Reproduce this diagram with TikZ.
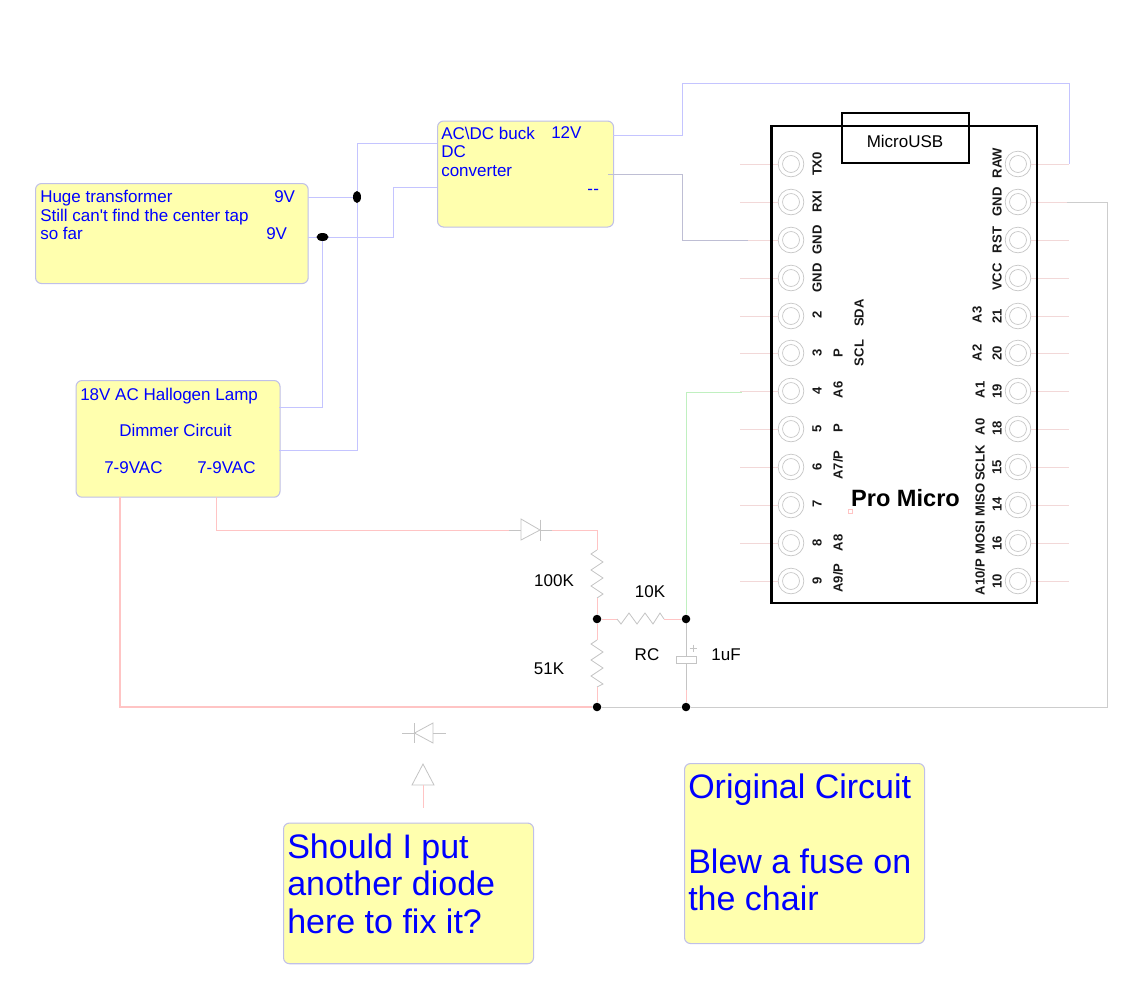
\documentclass[tikz,border=0pt]{standalone}
\usepackage{fontspec}
\setmainfont{Liberation Sans}
\usetikzlibrary{calc,shapes.geometric}
\pgfdeclarelayer{front}
\pgfsetlayers{main,front}
\definecolor{boxfill}{HTML}{FFFFAE}
\definecolor{boxline}{HTML}{C0C0E8}
\definecolor{wireblue}{HTML}{C4C4FF}
\definecolor{wiregrey}{HTML}{BEBED4}
\definecolor{wirered}{HTML}{FFC4C4}
\definecolor{stub}{HTML}{F2D8D8}
\definecolor{part}{HTML}{C4C4C4}
\definecolor{wiregreen}{HTML}{C0F0C0}
\tikzset{
  x=0.75pt,y=-0.75pt,
  box/.style={draw=boxline,fill=boxfill,rounded corners=4.5pt,line width=0.8pt,anchor=north west,inner sep=0pt},
  small/.style={text=blue,anchor=north west,inner sep=0pt,align=left,font=\fontsize{12.75}{13.9}\selectfont},
  big/.style={text=blue,anchor=north west,inner sep=0pt,align=left,font=\fontsize{25.5}{27.8}\selectfont},
  lab/.style={inner sep=0pt,font=\fontsize{12.75}{14}\selectfont},
  pinlab/.style={rotate=90,inner sep=0pt,font=\bfseries\fontsize{9.8}{10}\selectfont,text=black!90},
  ring/.style={circle,draw=part,line width=0.5pt,minimum size=19.3pt,inner sep=0pt},
  hole/.style={circle,draw=part,line width=0.5pt,minimum size=12.7pt,inner sep=0pt},
  dot/.style={circle,fill=black,inner sep=0pt,minimum size=6.4pt},
  ovaldot/.style={ellipse,fill=black,inner sep=0pt},
  wb/.style={draw=wireblue,line width=0.7pt},
  wg/.style={draw=wiregrey,line width=0.7pt},
  wr/.style={draw=wirered,line width=1pt},
  wrthin/.style={draw=wirered,line width=0.7pt},
  wgrey/.style={draw=part!85,line width=0.7pt},
  wgreen/.style={draw=wiregreen,line width=0.7pt},
  st/.style={draw=stub,line width=0.7pt},
  prt/.style={draw=part,line width=0.6pt},
}
\begin{document}
\begin{tikzpicture}
\useasboundingbox[fill=white] (0,0) rectangle (1148,1000);

% boxes
\node[box,minimum width=204.5pt,minimum height=75pt] (trans) at (35,183) {};
\node[box,minimum width=132pt,minimum height=79.5pt] (buck) at (437,120.5) {};
\node[box,minimum width=153pt,minimum height=87.5pt] (dim) at (75.5,380) {};
\node[box,minimum width=187.5pt,minimum height=105.5pt] (noteA) at (283,822.5) {};
\node[box,minimum width=180pt,minimum height=135pt] (noteB) at (684,763) {};

% box texts
\node[small] (t1) at (40,190) {Huge transformer\\Still can\textquotesingle t find the center tap\\so far};
\node[small] (t2) at (274,190) {9V};
\node[small] (t3) at (266,227) {9V};
\node[small] (t4) at (441,126.5) {AC\textbackslash DC buck\\DC\\converter};
\node[small] (t5) at (551,126.5) {12V};
\node[small] (t6) at (587,189) {-\kern0.3pt-};
\node[small] (t7) at (80,387.5) {18V AC Hallogen Lamp};
\node[small] (t8) at (119,424) {Dimmer Circuit};
\node[small] (t9) at (104,461) {7-9VAC};
\node[small] (t10) at (197,461) {7-9VAC};
\node[big] (t11) at (287,834) {Should I put\\another diode\\here to fix it?};
\node[big] (t12) at (688,774) {Original Circuit\\[27.8pt]Blew a fuse on\\the chair};

% pins
\foreach \i/\y in {1/164,2/202,3/240,4/278,5/316,6/353,7/391,8/429,9/467,10/505,11/543,12/581}{
  \node[ring] (L\i) at (791,\y) {};
  \node[hole] at (791,\y) {};
  \node[ring] (R\i) at (1018,\y) {};
  \node[hole] at (1018,\y) {};
  \coordinate (LS\i) at (740,\y);
  \coordinate (RS\i) at (1069,\y);
  \draw[st] (L\i.west) -- (LS\i);
  \draw[st] (R\i.east) -- (RS\i);
}

% wiring coordinates
\coordinate (b12) at (613,135);
\coordinate (bneg) at (608,174);
\coordinate (bin1) at (437,143);
\coordinate (bin2) at (437,187);
\coordinate (tr1) at (308,197);
\coordinate (tr2) at (308,237);
\coordinate (d1) at (279,407);
\coordinate (d2) at (279,450);
\coordinate (d3) at (120,497);
\coordinate (d4) at (216,497);
\coordinate (gndend) at (1067,202);

\begin{pgfonlayer}{front}
\node[ovaldot,minimum width=6pt,minimum height=9pt] (j1) at (357,197) {};
\node[ovaldot,minimum width=9pt,minimum height=6pt] (j2) at (322.5,237) {};
\node[dot] (j3) at (597,619) {};
\node[dot] (j4) at (686,619) {};
\node[dot] (j5) at (597,707) {};
\node[dot] (j6) at (686,707) {};
\end{pgfonlayer}

\draw[wb] (b12) -- (682,135) -- (682,83) -- (1069,83) -- (RS1);
\draw[wg] (bneg) -- (682,174) -- (682,240) -- (748,240);
\draw[wb] (tr1) -- (j1);
\draw[wb] (bin1) -- (357,143) -- (j1) -- (357,450) -- (d2);
\draw[wb] (tr2) -- (393,237) -- (393,187) -- (bin2);
\draw[wb] (j2) -- (322.5,407) -- (d1);

% low-voltage network
\draw[wr] (d3) -- (120,707) -- (j5);
\draw[wgrey] (j5) -- (j6) -- (1107,707) -- (1107,202) -- (gndend);
\draw[wrthin] (d4) -- (216,530) -- (509,530);
\draw[prt] (509,530) -- (521,530) (540,530) -- (552,530);
\draw[prt] (521,519) -- (540,530) -- (521,540) -- cycle;
\draw[prt] (540,519.5) -- (540,540.5);
\draw[wrthin] (552,530) -- (597,530) -- (597,550);
% 100K
\draw[prt] (597,550) -- (591,554) -- (603,562) -- (591,570) -- (603,578) -- (591,586) -- (603,594) -- (597,598);
\draw[wrthin] (597,598) -- (j3);
% 51K
\draw[wrthin] (j3) -- (597,640);
\draw[prt] (597,640) -- (591,644) -- (603,652) -- (591,660) -- (603,668) -- (591,676) -- (603,684) -- (597,687);
\draw[wrthin] (597,687) -- (j5);
% 10K
\draw[wrthin] (j3) -- (617,619);
\draw[prt] (617,619) -- (621,624) -- (629,613) -- (637,624) -- (645,613) -- (653,624) -- (660,613) -- (664,619);
\draw[wrthin] (664,619) -- (j4);
% green sense line
\draw[wgreen] (j4) -- (686,392) -- (742,392);
% capacitor
\draw[prt] (686,619) -- (686,656);
\draw[prt] (676,663) -- (676,656) -- (696,656) -- (696,663) -- cycle;
\draw[prt] (693,644.5) -- (693,651.5) (689.5,648) -- (696.5,648);
\draw[prt] (686,663) -- (686,690);
\draw[wrthin] (686,690) -- (j6);

% proposed diode and pointer
\draw[prt] (402,733) -- (414,733) (433,733) -- (446,733);
\draw[prt] (414,723) -- (414,743);
\draw[prt] (433,723) -- (414.5,733) -- (433,743) -- cycle;
\draw[prt] (423,764) -- (412,785) -- (434,785) -- cycle;
\draw[wrthin] (423,785) -- (423,808);

% board
\draw[black,line width=1.9pt] (771.5,126) rectangle (1037,603);
\node[draw=black,line width=1.4pt,minimum width=95pt,minimum height=37.5pt,inner sep=0pt] (usb) at (905.5,138) {};
\node[lab] (usbl) at (905,141) {MicroUSB};
\node[inner sep=0pt,font=\bfseries\fontsize{17.7}{19}\selectfont] (pm) at (905.5,498) {Pro Micro};
\node[draw=wirered,minimum size=3pt,inner sep=0pt] (sq) at (850,511) {};

% pin labels
\foreach \x/\y/\t in {
  817/164/TX0,817/202/RXI,817/240/GND,817/278/GND,817/315/2,817/353/3,817/391/4,817/429/5,817/467/6,817/504/7,817/543/8,817/581/9,
  838/353/P,838/390/A6,838/428/P,838/465/A7\slash P,838/543/A8,838/578/A9\slash P,
  859/313/SDA,859/353/SCL,
  997/163/RAW,997/202/GND,997/240/RST,997/277/VCC,997/316/21,997/353/20,997/391/19,997/428/18,997/467/15,997/504/14,997/543/16,997/581/10,
  977/315/A3,977/353/A2,980/390/A1,980/427/A0,980/463/SCLK,980/500/MISO,980/538/MOSI,980/577/A10\slash P}{
  \node[pinlab] at (\x,\y) {\t};
}

% component labels
\node[lab] (l1) at (554,581) {100K};
\node[lab] (l2) at (549,669) {51K};
\node[lab] (l3) at (650,592) {10K};
\node[lab] (l4) at (647,655) {RC};
\node[lab] (l5) at (726,655) {1uF};
\end{tikzpicture}
\end{document}
